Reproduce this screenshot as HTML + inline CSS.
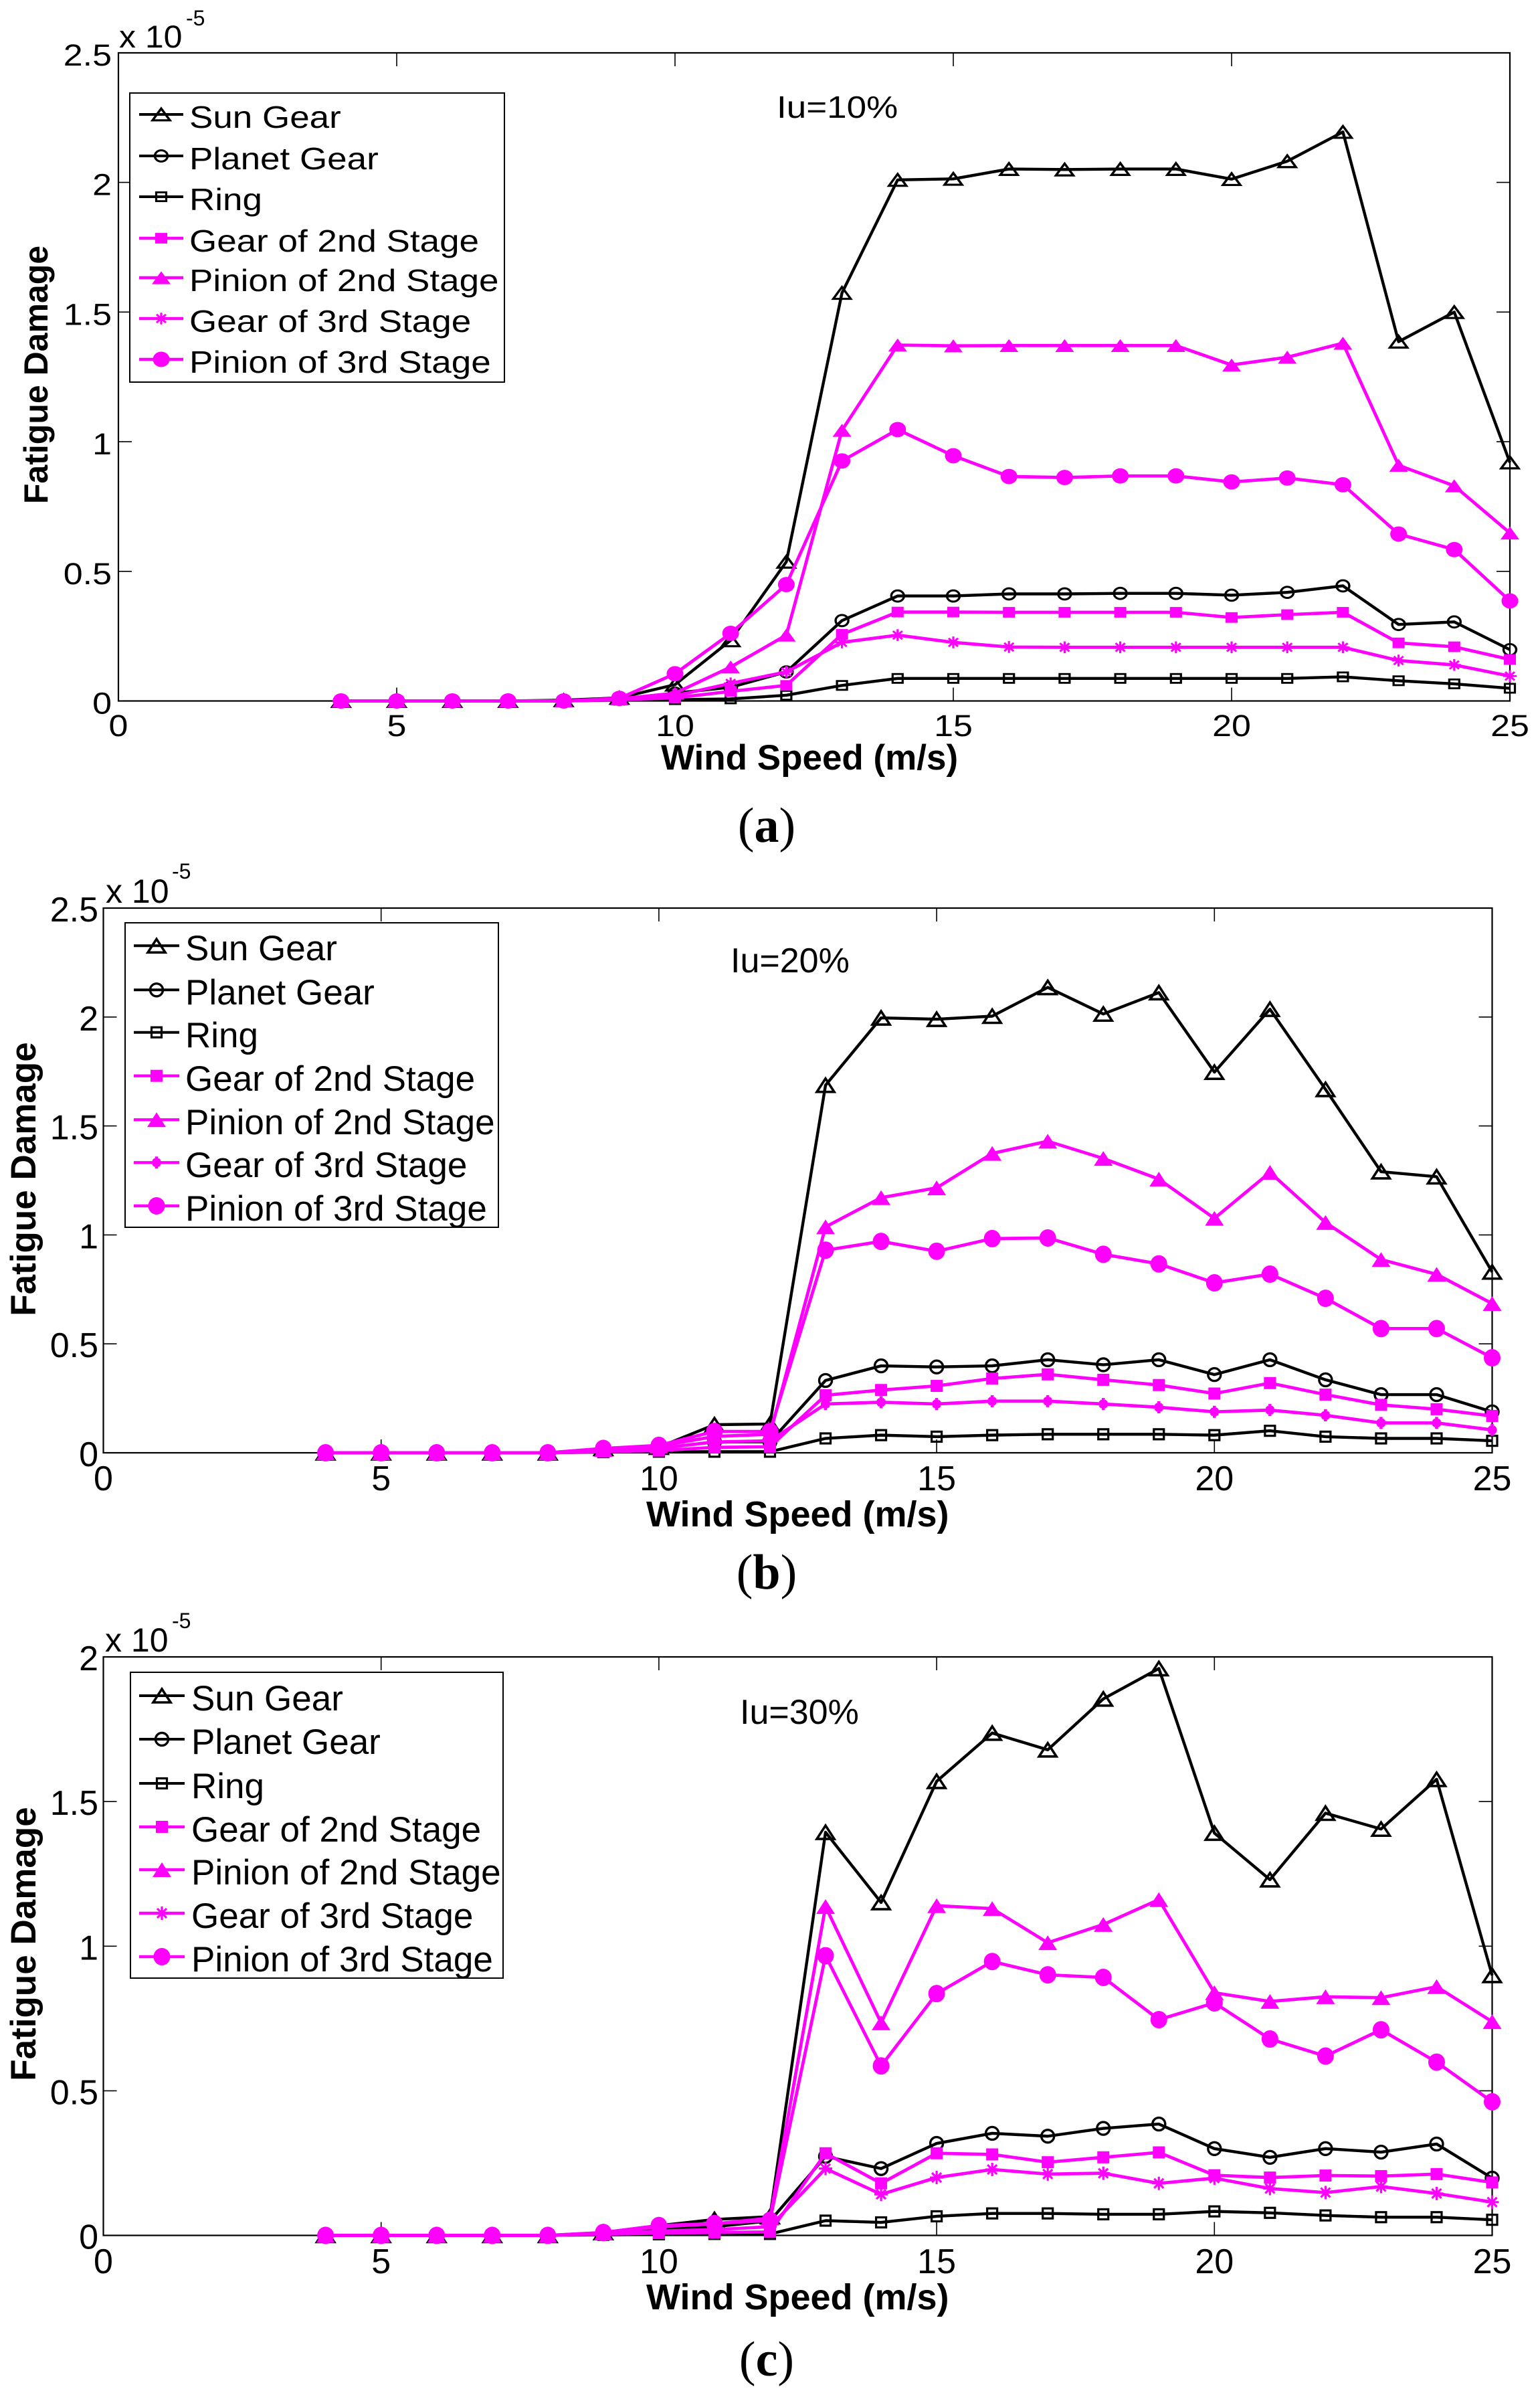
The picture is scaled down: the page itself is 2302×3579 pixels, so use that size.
<!DOCTYPE html>
<html><head><meta charset="utf-8"><style>
html,body{margin:0;padding:0;background:#fff}
svg{display:block}
text{font-family:"Liberation Sans",Arial,sans-serif;fill:#000}
.k{fill:none;stroke:#000;stroke-width:4.4;stroke-linejoin:round}
.m{fill:none;stroke:#f0f;stroke-width:4.8;stroke-linejoin:round}
.tk{fill:none;stroke:#000;stroke-width:1.6}
.fr{fill:none;stroke:#000;stroke-width:2.2}
.lg{fill:#fff;stroke:#000;stroke-width:2}
.lk{stroke:#000;stroke-width:4}
.lm{stroke:#f0f;stroke-width:4.4}
</style></head><body>
<svg width="2302" height="3579" viewBox="0 0 2302 3579" xmlns="http://www.w3.org/2000/svg">
<defs>
<g id="T"><path d="M0,-10L13,10H-13Z" fill="none" stroke="#000" stroke-width="3.6"/></g>
<g id="O"><circle r="9.5" fill="none" stroke="#000" stroke-width="3.4"/></g>
<g id="S"><rect x="-7.5" y="-7.5" width="15" height="15" fill="none" stroke="#000" stroke-width="3.2"/></g>
<g id="Q"><rect x="-9" y="-9" width="18" height="18" fill="#f0f"/></g>
<g id="P"><path d="M0,-11L14,11H-14Z" fill="#f0f"/></g>
<g id="X"><path d="M0,-10V10M-10,0H10M-7,-7L7,7M-7,7L7,-7" stroke="#f0f" stroke-width="3.2" fill="none"/></g>
<g id="X2"><path d="M0,-9V9M-7,0H7M-5,-5L5,5M-5,5L5,-5" stroke="#f0f" stroke-width="4.6" fill="none"/></g>
<g id="C"><ellipse rx="12.5" ry="13" fill="#f0f"/></g>

<g id="aT" transform="scale(.0120192,-.0022716)"><use href="#T"/></g>
<g id="aO" transform="scale(.0120192,-.0022716)"><use href="#O"/></g>
<g id="aS" transform="scale(.0120192,-.0022716)"><use href="#S"/></g>
<g id="aQ" transform="scale(.0120192,-.0022716)"><use href="#Q"/></g>
<g id="aP" transform="scale(.0120192,-.0022716)"><use href="#P"/></g>
<g id="aX" transform="scale(.0120192,-.0022716)"><use href="#X"/></g>
<g id="aC" transform="scale(.0120192,-.0022716)"><use href="#C"/></g>

<g id="bT" transform="scale(.0120424,-.0030713)"><use href="#T"/></g>
<g id="bO" transform="scale(.0120424,-.0030713)"><use href="#O"/></g>
<g id="bS" transform="scale(.0120424,-.0030713)"><use href="#S"/></g>
<g id="bQ" transform="scale(.0120424,-.0030713)"><use href="#Q"/></g>
<g id="bP" transform="scale(.0120424,-.0030713)"><use href="#P"/></g>
<g id="bX" transform="scale(.0120424,-.0030713)"><use href="#X2"/></g>
<g id="bC" transform="scale(.0120424,-.0030713)"><use href="#C"/></g>

<g id="cT" transform="scale(.0120424,-.0023137)"><use href="#T"/></g>
<g id="cO" transform="scale(.0120424,-.0023137)"><use href="#O"/></g>
<g id="cS" transform="scale(.0120424,-.0023137)"><use href="#S"/></g>
<g id="cQ" transform="scale(.0120424,-.0023137)"><use href="#Q"/></g>
<g id="cP" transform="scale(.0120424,-.0023137)"><use href="#P"/></g>
<g id="cX" transform="scale(.0120424,-.0023137)"><use href="#X"/></g>
<g id="cC" transform="scale(.0120424,-.0023137)"><use href="#C"/></g>
</defs>

<rect width="2302" height="3579" fill="#fff"/>

<!-- ================= PANEL A ================= -->
<rect class="fr" x="177" y="79" width="2080" height="968.5"/>
<path class="tk" d="M593,1047.5v-20M1009,1047.5v-20M1425,1047.5v-20M1841,1047.5v-20M593,79v20M1009,79v20M1425,79v20M1841,79v20M177,853.8h20M177,660.1h20M177,466.3h20M177,272.6h20M2257,853.8h-20M2257,660.1h-20M2257,466.3h-20M2257,272.6h-20"/>
<g font-size="52" text-anchor="end">
<text transform="translate(167,1066.5) scale(1,.88)">0</text>
<text transform="translate(167,872.8) scale(1,.88)">0.5</text>
<text transform="translate(167,679.1) scale(1,.88)">1</text>
<text transform="translate(167,485.3) scale(1,.88)">1.5</text>
<text transform="translate(167,291.6) scale(1,.88)">2</text>
<text transform="translate(167,97.9) scale(1,.88)">2.5</text>
</g>
<g font-size="52" text-anchor="middle">
<text transform="translate(177,1100) scale(1,.88)">0</text>
<text transform="translate(593,1100) scale(1,.88)">5</text>
<text transform="translate(1009,1100) scale(1,.88)">10</text>
<text transform="translate(1425,1100) scale(1,.88)">15</text>
<text transform="translate(1841,1100) scale(1,.88)">20</text>
<text transform="translate(2257,1100) scale(1,.88)">25</text>
</g>
<text transform="translate(178,71) scale(1,.95)" font-size="50">x 10</text>
<text x="278" y="38" font-size="32">-5</text>
<text transform="translate(71,560) rotate(-90)" font-size="50" font-weight="bold" text-anchor="middle">Fatigue Damage</text>
<text x="988" y="1150" font-size="53" font-weight="bold">Wind Speed (m/s)</text>
<text x="1146" y="1258" font-size="74" text-anchor="middle" style="font-family:'Liberation Serif','Times New Roman',serif">(<tspan font-weight="bold">a</tspan>)</text>
<text transform="translate(1161,176) scale(1,.88)" font-size="53">Iu=10%</text>

<g transform="matrix(83.2 0 0 -387.4 177 1047.5)">
<polyline class="k" vector-effect="non-scaling-stroke" points="4,0 5,0 6,0 7,0 8,.003 9,.012 10,.063 11,.234 12,.537 13,1.574 14,2.01 15,2.014 16,2.052 17,2.05 18,2.052 19,2.052 20,2.013 21,2.082 22,2.195 23,1.386 24,1.5 25,.92"/>
<use href="#aT" x="4"/><use href="#aT" x="5"/><use href="#aT" x="6"/><use href="#aT" x="7"/><use href="#aT" x="8" y=".003"/><use href="#aT" x="9" y=".012"/><use href="#aT" x="10" y=".063"/><use href="#aT" x="11" y=".234"/><use href="#aT" x="12" y=".537"/><use href="#aT" x="13" y="1.574"/><use href="#aT" x="14" y="2.01"/><use href="#aT" x="15" y="2.014"/><use href="#aT" x="16" y="2.052"/><use href="#aT" x="17" y="2.05"/><use href="#aT" x="18" y="2.052"/><use href="#aT" x="19" y="2.052"/><use href="#aT" x="20" y="2.013"/><use href="#aT" x="21" y="2.082"/><use href="#aT" x="22" y="2.195"/><use href="#aT" x="23" y="1.386"/><use href="#aT" x="24" y="1.5"/><use href="#aT" x="25" y=".92"/>

<polyline class="k" vector-effect="non-scaling-stroke" points="4,0 5,0 6,0 7,0 8,0 9,.008 10,.03 11,.053 12,.112 13,.31 14,.405 15,.405 16,.413 17,.413 18,.415 19,.415 20,.408 21,.419 22,.444 23,.295 24,.305 25,.198"/>
<use href="#aO" x="4"/><use href="#aO" x="5"/><use href="#aO" x="6"/><use href="#aO" x="7"/><use href="#aO" x="8"/><use href="#aO" x="9" y=".008"/><use href="#aO" x="10" y=".03"/><use href="#aO" x="11" y=".053"/><use href="#aO" x="12" y=".112"/><use href="#aO" x="13" y=".31"/><use href="#aO" x="14" y=".405"/><use href="#aO" x="15" y=".405"/><use href="#aO" x="16" y=".413"/><use href="#aO" x="17" y=".413"/><use href="#aO" x="18" y=".415"/><use href="#aO" x="19" y=".415"/><use href="#aO" x="20" y=".408"/><use href="#aO" x="21" y=".419"/><use href="#aO" x="22" y=".444"/><use href="#aO" x="23" y=".295"/><use href="#aO" x="24" y=".305"/><use href="#aO" x="25" y=".198"/>

<polyline class="k" vector-effect="non-scaling-stroke" points="4,0 5,0 6,0 7,0 8,0 9,.003 10,.005 11,.008 12,.022 13,.06 14,.087 15,.087 16,.087 17,.087 18,.087 19,.087 20,.087 21,.087 22,.093 23,.078 24,.066 25,.049"/>
<use href="#aS" x="4"/><use href="#aS" x="5"/><use href="#aS" x="6"/><use href="#aS" x="7"/><use href="#aS" x="8"/><use href="#aS" x="9" y=".003"/><use href="#aS" x="10" y=".005"/><use href="#aS" x="11" y=".008"/><use href="#aS" x="12" y=".022"/><use href="#aS" x="13" y=".06"/><use href="#aS" x="14" y=".087"/><use href="#aS" x="15" y=".087"/><use href="#aS" x="16" y=".087"/><use href="#aS" x="17" y=".087"/><use href="#aS" x="18" y=".087"/><use href="#aS" x="19" y=".087"/><use href="#aS" x="20" y=".087"/><use href="#aS" x="21" y=".087"/><use href="#aS" x="22" y=".093"/><use href="#aS" x="23" y=".078"/><use href="#aS" x="24" y=".066"/><use href="#aS" x="25" y=".049"/>

<polyline class="m" vector-effect="non-scaling-stroke" points="4,0 5,0 6,0 7,0 8,0 9,.005 10,.012 11,.037 12,.06 13,.257 14,.343 15,.343 16,.342 17,.342 18,.342 19,.342 20,.322 21,.333 22,.342 23,.224 24,.209 25,.16"/>
<use href="#aQ" x="4"/><use href="#aQ" x="5"/><use href="#aQ" x="6"/><use href="#aQ" x="7"/><use href="#aQ" x="8"/><use href="#aQ" x="9" y=".005"/><use href="#aQ" x="10" y=".012"/><use href="#aQ" x="11" y=".037"/><use href="#aQ" x="12" y=".06"/><use href="#aQ" x="13" y=".257"/><use href="#aQ" x="14" y=".343"/><use href="#aQ" x="15" y=".343"/><use href="#aQ" x="16" y=".342"/><use href="#aQ" x="17" y=".342"/><use href="#aQ" x="18" y=".342"/><use href="#aQ" x="19" y=".342"/><use href="#aQ" x="20" y=".322"/><use href="#aQ" x="21" y=".333"/><use href="#aQ" x="22" y=".342"/><use href="#aQ" x="23" y=".224"/><use href="#aQ" x="24" y=".209"/><use href="#aQ" x="25" y=".16"/>

<polyline class="m" vector-effect="non-scaling-stroke" points="4,0 5,0 6,0 7,0 8,0 9,.008 10,.03 11,.131 12,.254 13,1.044 14,1.373 15,1.37 16,1.371 17,1.371 18,1.371 19,1.371 20,1.296 21,1.326 22,1.38 23,.909 24,.83 25,.648"/>
<use href="#aP" x="4"/><use href="#aP" x="5"/><use href="#aP" x="6"/><use href="#aP" x="7"/><use href="#aP" x="8"/><use href="#aP" x="9" y=".008"/><use href="#aP" x="10" y=".03"/><use href="#aP" x="11" y=".131"/><use href="#aP" x="12" y=".254"/><use href="#aP" x="13" y="1.044"/><use href="#aP" x="14" y="1.373"/><use href="#aP" x="15" y="1.37"/><use href="#aP" x="16" y="1.371"/><use href="#aP" x="17" y="1.371"/><use href="#aP" x="18" y="1.371"/><use href="#aP" x="19" y="1.371"/><use href="#aP" x="20" y="1.296"/><use href="#aP" x="21" y="1.326"/><use href="#aP" x="22" y="1.38"/><use href="#aP" x="23" y=".909"/><use href="#aP" x="24" y=".83"/><use href="#aP" x="25" y=".648"/>

<polyline class="m" vector-effect="non-scaling-stroke" points="4,0 5,0 6,0 7,0 8,0 9,.006 10,.02 11,.068 12,.112 13,.226 14,.254 15,.226 16,.208 17,.207 18,.207 19,.207 20,.207 21,.207 22,.207 23,.156 24,.139 25,.096"/>
<use href="#aX" x="4"/><use href="#aX" x="5"/><use href="#aX" x="6"/><use href="#aX" x="7"/><use href="#aX" x="8"/><use href="#aX" x="9" y=".006"/><use href="#aX" x="10" y=".02"/><use href="#aX" x="11" y=".068"/><use href="#aX" x="12" y=".112"/><use href="#aX" x="13" y=".226"/><use href="#aX" x="14" y=".254"/><use href="#aX" x="15" y=".226"/><use href="#aX" x="16" y=".208"/><use href="#aX" x="17" y=".207"/><use href="#aX" x="18" y=".207"/><use href="#aX" x="19" y=".207"/><use href="#aX" x="20" y=".207"/><use href="#aX" x="21" y=".207"/><use href="#aX" x="22" y=".207"/><use href="#aX" x="23" y=".156"/><use href="#aX" x="24" y=".139"/><use href="#aX" x="25" y=".096"/>

<polyline class="m" vector-effect="non-scaling-stroke" points="4,0 5,0 6,0 7,0 8,0 9,.01 10,.105 11,.261 12,.449 13,.926 14,1.047 15,.946 16,.866 17,.862 18,.868 19,.868 20,.845 21,.86 22,.834 23,.644 24,.584 25,.386"/>
<use href="#aC" x="4"/><use href="#aC" x="5"/><use href="#aC" x="6"/><use href="#aC" x="7"/><use href="#aC" x="8"/><use href="#aC" x="9" y=".01"/><use href="#aC" x="10" y=".105"/><use href="#aC" x="11" y=".261"/><use href="#aC" x="12" y=".449"/><use href="#aC" x="13" y=".926"/><use href="#aC" x="14" y="1.047"/><use href="#aC" x="15" y=".946"/><use href="#aC" x="16" y=".866"/><use href="#aC" x="17" y=".862"/><use href="#aC" x="18" y=".868"/><use href="#aC" x="19" y=".868"/><use href="#aC" x="20" y=".845"/><use href="#aC" x="21" y=".86"/><use href="#aC" x="22" y=".834"/><use href="#aC" x="23" y=".644"/><use href="#aC" x="24" y=".584"/><use href="#aC" x="25" y=".386"/>
</g>

<!-- legend A -->
<rect class="lg" x="194" y="139" width="560" height="432"/>
<path class="lk" d="M208,171H274M208,233H274M208,294H274"/>
<path class="lm" d="M208,356H274M208,415H274M208,476H274M208,537H274"/>
<use href="#T" transform="translate(241,171) scale(1,.88)"/>
<use href="#O" transform="translate(241,233) scale(1,.88)"/>
<use href="#S" transform="translate(241,294) scale(1,.88)"/>
<use href="#Q" transform="translate(241,356) scale(1,.88)"/>
<use href="#P" transform="translate(241,415) scale(1,.88)"/>
<use href="#X" transform="translate(241,476) scale(1,.88)"/>
<use href="#C" transform="translate(241,537) scale(1,.88)"/>
<g font-size="53">
<text transform="translate(283,191) scale(1,.88)">Sun Gear</text>
<text transform="translate(283,253) scale(1,.88)">Planet Gear</text>
<text transform="translate(283,314) scale(1,.88)">Ring</text>
<text transform="translate(283,376) scale(1,.88)">Gear of 2nd Stage</text>
<text transform="translate(283,435) scale(1,.88)">Pinion of 2nd Stage</text>
<text transform="translate(283,496) scale(1,.88)">Gear of 3rd Stage</text>
<text transform="translate(283,557) scale(1,.88)">Pinion of 3rd Stage</text>
</g>

<!-- ================= PANEL B ================= -->
<rect class="fr" x="154.5" y="1357" width="2076" height="814"/>
<path class="tk" d="M569.7,2171v-20M984.9,2171v-20M1400.1,2171v-20M1815.3,2171v-20M569.7,1357v20M984.9,1357v20M1400.1,1357v20M1815.3,1357v20M154.5,2008.2h20M154.5,1845.4h20M154.5,1682.6h20M154.5,1519.8h20M2230.5,2008.2h-20M2230.5,1845.4h-20M2230.5,1682.6h-20M2230.5,1519.8h-20"/>
<g font-size="52" text-anchor="end">
<text x="147" y="2191">0</text>
<text x="147" y="2028.2">0.5</text>
<text x="147" y="1865.4">1</text>
<text x="147" y="1702.6">1.5</text>
<text x="147" y="1539.8">2</text>
<text x="147" y="1377">2.5</text>
</g>
<g font-size="52" text-anchor="middle">
<text x="154.5" y="2227">0</text>
<text x="569.7" y="2227">5</text>
<text x="984.9" y="2227">10</text>
<text x="1400.1" y="2227">15</text>
<text x="1815.3" y="2227">20</text>
<text x="2230.5" y="2227">25</text>
</g>
<text x="158" y="1349" font-size="50">x 10</text>
<text x="257" y="1313" font-size="32">-5</text>
<text transform="translate(53,1762) rotate(-90)" font-size="53" font-weight="bold" text-anchor="middle">Fatigue Damage</text>
<text x="966" y="2281" font-size="54" font-weight="bold">Wind Speed (m/s)</text>
<text x="1146" y="2374" font-size="74" text-anchor="middle" style="font-family:'Liberation Serif','Times New Roman',serif">(<tspan font-weight="bold">b</tspan>)</text>
<text x="1092" y="1453" font-size="52">Iu=20%</text>

<g transform="matrix(83.04 0 0 -325.6 154.5 2171)">
<polyline class="k" vector-effect="non-scaling-stroke" points="4,0 5,0 6,0 7,0 8,0 9,.02 10,.026 11,.129 12,.132 13,1.687 14,1.996 15,1.99 16,2.004 17,2.136 18,2.014 19,2.112 20,1.747 21,2.036 22,1.668 23,1.29 24,1.267 25,.83"/>
<use href="#bT" x="4"/><use href="#bT" x="5"/><use href="#bT" x="6"/><use href="#bT" x="7"/><use href="#bT" x="8"/><use href="#bT" x="9" y=".02"/><use href="#bT" x="10" y=".026"/><use href="#bT" x="11" y=".129"/><use href="#bT" x="12" y=".132"/><use href="#bT" x="13" y="1.687"/><use href="#bT" x="14" y="1.996"/><use href="#bT" x="15" y="1.99"/><use href="#bT" x="16" y="2.004"/><use href="#bT" x="17" y="2.136"/><use href="#bT" x="18" y="2.014"/><use href="#bT" x="19" y="2.112"/><use href="#bT" x="20" y="1.747"/><use href="#bT" x="21" y="2.036"/><use href="#bT" x="22" y="1.668"/><use href="#bT" x="23" y="1.29"/><use href="#bT" x="24" y="1.267"/><use href="#bT" x="25" y=".83"/>

<polyline class="k" vector-effect="non-scaling-stroke" points="4,0 5,0 6,0 7,0 8,0 9,.01 10,.02 11,.05 12,.05 13,.332 14,.399 15,.394 16,.399 17,.427 18,.404 19,.427 20,.359 21,.427 22,.335 23,.267 24,.267 25,.188"/>
<use href="#bO" x="4"/><use href="#bO" x="5"/><use href="#bO" x="6"/><use href="#bO" x="7"/><use href="#bO" x="8"/><use href="#bO" x="9" y=".01"/><use href="#bO" x="10" y=".02"/><use href="#bO" x="11" y=".05"/><use href="#bO" x="12" y=".05"/><use href="#bO" x="13" y=".332"/><use href="#bO" x="14" y=".399"/><use href="#bO" x="15" y=".394"/><use href="#bO" x="16" y=".399"/><use href="#bO" x="17" y=".427"/><use href="#bO" x="18" y=".404"/><use href="#bO" x="19" y=".427"/><use href="#bO" x="20" y=".359"/><use href="#bO" x="21" y=".427"/><use href="#bO" x="22" y=".335"/><use href="#bO" x="23" y=".267"/><use href="#bO" x="24" y=".267"/><use href="#bO" x="25" y=".188"/>

<polyline class="k" vector-effect="non-scaling-stroke" points="4,0 5,0 6,0 7,0 8,0 9,.003 10,.005 11,.005 12,.005 13,.066 14,.081 15,.074 16,.081 17,.085 18,.085 19,.085 20,.081 21,.101 22,.074 23,.066 24,.066 25,.055"/>
<use href="#bS" x="4"/><use href="#bS" x="5"/><use href="#bS" x="6"/><use href="#bS" x="7"/><use href="#bS" x="8"/><use href="#bS" x="9" y=".003"/><use href="#bS" x="10" y=".005"/><use href="#bS" x="11" y=".005"/><use href="#bS" x="12" y=".005"/><use href="#bS" x="13" y=".066"/><use href="#bS" x="14" y=".081"/><use href="#bS" x="15" y=".074"/><use href="#bS" x="16" y=".081"/><use href="#bS" x="17" y=".085"/><use href="#bS" x="18" y=".085"/><use href="#bS" x="19" y=".085"/><use href="#bS" x="20" y=".081"/><use href="#bS" x="21" y=".101"/><use href="#bS" x="22" y=".074"/><use href="#bS" x="23" y=".066"/><use href="#bS" x="24" y=".066"/><use href="#bS" x="25" y=".055"/>

<polyline class="m" vector-effect="non-scaling-stroke" points="4,0 5,0 6,0 7,0 8,0 9,.005 10,.01 11,.025 12,.028 13,.264 14,.288 15,.307 16,.341 17,.36 18,.335 19,.311 20,.272 21,.32 22,.267 23,.22 24,.2 25,.169"/>
<use href="#bQ" x="4"/><use href="#bQ" x="5"/><use href="#bQ" x="6"/><use href="#bQ" x="7"/><use href="#bQ" x="8"/><use href="#bQ" x="9" y=".005"/><use href="#bQ" x="10" y=".01"/><use href="#bQ" x="11" y=".025"/><use href="#bQ" x="12" y=".028"/><use href="#bQ" x="13" y=".264"/><use href="#bQ" x="14" y=".288"/><use href="#bQ" x="15" y=".307"/><use href="#bQ" x="16" y=".341"/><use href="#bQ" x="17" y=".36"/><use href="#bQ" x="18" y=".335"/><use href="#bQ" x="19" y=".311"/><use href="#bQ" x="20" y=".272"/><use href="#bQ" x="21" y=".32"/><use href="#bQ" x="22" y=".267"/><use href="#bQ" x="23" y=".22"/><use href="#bQ" x="24" y=".2"/><use href="#bQ" x="25" y=".169"/>

<polyline class="m" vector-effect="non-scaling-stroke" points="4,0 5,0 6,0 7,0 8,0 9,.015 10,.03 11,.075 12,.085 13,1.037 14,1.171 15,1.216 16,1.374 17,1.43 18,1.351 19,1.256 20,1.076 21,1.287 22,1.057 23,.887 24,.819 25,.685"/>
<use href="#bP" x="4"/><use href="#bP" x="5"/><use href="#bP" x="6"/><use href="#bP" x="7"/><use href="#bP" x="8"/><use href="#bP" x="9" y=".015"/><use href="#bP" x="10" y=".03"/><use href="#bP" x="11" y=".075"/><use href="#bP" x="12" y=".085"/><use href="#bP" x="13" y="1.037"/><use href="#bP" x="14" y="1.171"/><use href="#bP" x="15" y="1.216"/><use href="#bP" x="16" y="1.374"/><use href="#bP" x="17" y="1.43"/><use href="#bP" x="18" y="1.351"/><use href="#bP" x="19" y="1.256"/><use href="#bP" x="20" y="1.076"/><use href="#bP" x="21" y="1.287"/><use href="#bP" x="22" y="1.057"/><use href="#bP" x="23" y=".887"/><use href="#bP" x="24" y=".819"/><use href="#bP" x="25" y=".685"/>

<polyline class="m" vector-effect="non-scaling-stroke" points="4,0 5,0 6,0 7,0 8,0 9,.01 10,.02 11,.05 12,.055 13,.224 14,.232 15,.224 16,.237 17,.237 18,.224 19,.209 20,.188 21,.196 22,.172 23,.137 24,.137 25,.105"/>
<use href="#bX" x="4"/><use href="#bX" x="5"/><use href="#bX" x="6"/><use href="#bX" x="7"/><use href="#bX" x="8"/><use href="#bX" x="9" y=".01"/><use href="#bX" x="10" y=".02"/><use href="#bX" x="11" y=".05"/><use href="#bX" x="12" y=".055"/><use href="#bX" x="13" y=".224"/><use href="#bX" x="14" y=".232"/><use href="#bX" x="15" y=".224"/><use href="#bX" x="16" y=".237"/><use href="#bX" x="17" y=".237"/><use href="#bX" x="18" y=".224"/><use href="#bX" x="19" y=".209"/><use href="#bX" x="20" y=".188"/><use href="#bX" x="21" y=".196"/><use href="#bX" x="22" y=".172"/><use href="#bX" x="23" y=".137"/><use href="#bX" x="24" y=".137"/><use href="#bX" x="25" y=".105"/>

<polyline class="m" vector-effect="non-scaling-stroke" points="4,0 5,0 6,0 7,0 8,0 9,.02 10,.034 11,.098 12,.098 13,.93 14,.97 15,.925 16,.983 17,.986 18,.911 19,.867 20,.78 21,.82 22,.709 23,.57 24,.57 25,.436"/>
<use href="#bC" x="4"/><use href="#bC" x="5"/><use href="#bC" x="6"/><use href="#bC" x="7"/><use href="#bC" x="8"/><use href="#bC" x="9" y=".02"/><use href="#bC" x="10" y=".034"/><use href="#bC" x="11" y=".098"/><use href="#bC" x="12" y=".098"/><use href="#bC" x="13" y=".93"/><use href="#bC" x="14" y=".97"/><use href="#bC" x="15" y=".925"/><use href="#bC" x="16" y=".983"/><use href="#bC" x="17" y=".986"/><use href="#bC" x="18" y=".911"/><use href="#bC" x="19" y=".867"/><use href="#bC" x="20" y=".78"/><use href="#bC" x="21" y=".82"/><use href="#bC" x="22" y=".709"/><use href="#bC" x="23" y=".57"/><use href="#bC" x="24" y=".57"/><use href="#bC" x="25" y=".436"/>
</g>

<!-- legend B -->
<rect class="lg" x="187" y="1379" width="558" height="455"/>
<path class="lk" d="M200,1413.3H268M200,1479.3H268M200,1542.7H268"/>
<path class="lm" d="M200,1607.7H268M200,1673.3H268M200,1737.3H268M200,1802H268"/>
<use href="#T" transform="translate(234,1413.3)"/>
<use href="#O" transform="translate(234,1479.3)"/>
<use href="#S" transform="translate(234,1542.7)"/>
<use href="#Q" transform="translate(234,1607.7)"/>
<use href="#P" transform="translate(234,1673.3)"/>
<use href="#X2" transform="translate(234,1737.3)"/>
<use href="#C" transform="translate(234,1802)"/>
<g font-size="53">
<text x="277" y="1435">Sun Gear</text>
<text x="277" y="1501">Planet Gear</text>
<text x="277" y="1565">Ring</text>
<text x="277" y="1630">Gear of 2nd Stage</text>
<text x="277" y="1695">Pinion of 2nd Stage</text>
<text x="277" y="1759">Gear of 3rd Stage</text>
<text x="277" y="1824">Pinion of 3rd Stage</text>
</g>

<!-- ================= PANEL C ================= -->
<rect class="fr" x="154.5" y="2476" width="2076" height="864.5"/>
<path class="tk" d="M569.7,3340.5v-20M984.9,3340.5v-20M1400.1,3340.5v-20M1815.3,3340.5v-20M569.7,2476v20M984.9,2476v20M1400.1,2476v20M1815.3,2476v20M154.5,3124.4h20M154.5,2908.3h20M154.5,2692.2h20M2230.5,3124.4h-20M2230.5,2908.3h-20M2230.5,2692.2h-20"/>
<g font-size="52" text-anchor="end">
<text x="147" y="3360.5">0</text>
<text x="147" y="3144.4">0.5</text>
<text x="147" y="2928.3">1</text>
<text x="147" y="2712.2">1.5</text>
<text x="147" y="2496.1">2</text>
</g>
<g font-size="52" text-anchor="middle">
<text x="154.5" y="3397">0</text>
<text x="569.7" y="3397">5</text>
<text x="984.9" y="3397">10</text>
<text x="1400.1" y="3397">15</text>
<text x="1815.3" y="3397">20</text>
<text x="2230.5" y="3397">25</text>
</g>
<text x="157" y="2468" font-size="50">x 10</text>
<text x="257" y="2433" font-size="32">-5</text>
<text transform="translate(53,2905) rotate(-90)" font-size="53" font-weight="bold" text-anchor="middle">Fatigue Damage</text>
<text x="966" y="3451" font-size="54" font-weight="bold">Wind Speed (m/s)</text>
<text x="1146" y="3550" font-size="74" text-anchor="middle" style="font-family:'Liberation Serif','Times New Roman',serif">(<tspan font-weight="bold">c</tspan>)</text>
<text x="1106" y="2576" font-size="52">Iu=30%</text>

<g transform="matrix(83.04 0 0 -432.2 154.5 3340.5)">
<polyline class="k" vector-effect="non-scaling-stroke" points="4,0 5,0 6,0 7,0 8,0 9,.01 10,.034 11,.055 12,.065 13,1.394 14,1.151 15,1.57 16,1.737 17,1.679 18,1.855 19,1.96 20,1.391 21,1.23 22,1.46 23,1.405 24,1.577 25,.899"/>
<use href="#cT" x="4"/><use href="#cT" x="5"/><use href="#cT" x="6"/><use href="#cT" x="7"/><use href="#cT" x="8"/><use href="#cT" x="9" y=".01"/><use href="#cT" x="10" y=".034"/><use href="#cT" x="11" y=".055"/><use href="#cT" x="12" y=".065"/><use href="#cT" x="13" y="1.394"/><use href="#cT" x="14" y="1.151"/><use href="#cT" x="15" y="1.57"/><use href="#cT" x="16" y="1.737"/><use href="#cT" x="17" y="1.679"/><use href="#cT" x="18" y="1.855"/><use href="#cT" x="19" y="1.96"/><use href="#cT" x="20" y="1.391"/><use href="#cT" x="21" y="1.23"/><use href="#cT" x="22" y="1.46"/><use href="#cT" x="23" y="1.405"/><use href="#cT" x="24" y="1.577"/><use href="#cT" x="25" y=".899"/>

<polyline class="k" vector-effect="non-scaling-stroke" points="4,0 5,0 6,0 7,0 8,0 9,.008 10,.02 11,.03 12,.05 13,.273 14,.231 15,.318 16,.353 17,.343 18,.37 19,.385 20,.3 21,.27 22,.3 23,.288 24,.316 25,.198"/>
<use href="#cO" x="4"/><use href="#cO" x="5"/><use href="#cO" x="6"/><use href="#cO" x="7"/><use href="#cO" x="8"/><use href="#cO" x="9" y=".008"/><use href="#cO" x="10" y=".02"/><use href="#cO" x="11" y=".03"/><use href="#cO" x="12" y=".05"/><use href="#cO" x="13" y=".273"/><use href="#cO" x="14" y=".231"/><use href="#cO" x="15" y=".318"/><use href="#cO" x="16" y=".353"/><use href="#cO" x="17" y=".343"/><use href="#cO" x="18" y=".37"/><use href="#cO" x="19" y=".385"/><use href="#cO" x="20" y=".3"/><use href="#cO" x="21" y=".27"/><use href="#cO" x="22" y=".3"/><use href="#cO" x="23" y=".288"/><use href="#cO" x="24" y=".316"/><use href="#cO" x="25" y=".198"/>

<polyline class="k" vector-effect="non-scaling-stroke" points="4,0 5,0 6,0 7,0 8,0 9,.002 10,.004 11,.005 12,.005 13,.051 14,.045 15,.066 16,.076 17,.076 18,.073 19,.073 20,.083 21,.078 22,.069 23,.063 24,.063 25,.054"/>
<use href="#cS" x="4"/><use href="#cS" x="5"/><use href="#cS" x="6"/><use href="#cS" x="7"/><use href="#cS" x="8"/><use href="#cS" x="9" y=".002"/><use href="#cS" x="10" y=".004"/><use href="#cS" x="11" y=".005"/><use href="#cS" x="12" y=".005"/><use href="#cS" x="13" y=".051"/><use href="#cS" x="14" y=".045"/><use href="#cS" x="15" y=".066"/><use href="#cS" x="16" y=".076"/><use href="#cS" x="17" y=".076"/><use href="#cS" x="18" y=".073"/><use href="#cS" x="19" y=".073"/><use href="#cS" x="20" y=".083"/><use href="#cS" x="21" y=".078"/><use href="#cS" x="22" y=".069"/><use href="#cS" x="23" y=".063"/><use href="#cS" x="24" y=".063"/><use href="#cS" x="25" y=".054"/>

<polyline class="m" vector-effect="non-scaling-stroke" points="4,0 5,0 6,0 7,0 8,0 9,.004 10,.008 11,.01 12,.012 13,.284 14,.18 15,.284 16,.28 17,.253 18,.27 19,.287 20,.208 21,.2 22,.207 23,.205 24,.212 25,.183"/>
<use href="#cQ" x="4"/><use href="#cQ" x="5"/><use href="#cQ" x="6"/><use href="#cQ" x="7"/><use href="#cQ" x="8"/><use href="#cQ" x="9" y=".004"/><use href="#cQ" x="10" y=".008"/><use href="#cQ" x="11" y=".01"/><use href="#cQ" x="12" y=".012"/><use href="#cQ" x="13" y=".284"/><use href="#cQ" x="14" y=".18"/><use href="#cQ" x="15" y=".284"/><use href="#cQ" x="16" y=".28"/><use href="#cQ" x="17" y=".253"/><use href="#cQ" x="18" y=".27"/><use href="#cQ" x="19" y=".287"/><use href="#cQ" x="20" y=".208"/><use href="#cQ" x="21" y=".2"/><use href="#cQ" x="22" y=".207"/><use href="#cQ" x="23" y=".205"/><use href="#cQ" x="24" y=".212"/><use href="#cQ" x="25" y=".183"/>

<polyline class="m" vector-effect="non-scaling-stroke" points="4,0 5,0 6,0 7,0 8,0 9,.008 10,.03 11,.04 12,.06 13,1.137 14,.735 15,1.14 16,1.13 17,1.012 18,1.075 19,1.161 20,.839 21,.809 22,.825 23,.822 24,.86 25,.739"/>
<use href="#cP" x="4"/><use href="#cP" x="5"/><use href="#cP" x="6"/><use href="#cP" x="7"/><use href="#cP" x="8"/><use href="#cP" x="9" y=".008"/><use href="#cP" x="10" y=".03"/><use href="#cP" x="11" y=".04"/><use href="#cP" x="12" y=".06"/><use href="#cP" x="13" y="1.137"/><use href="#cP" x="14" y=".735"/><use href="#cP" x="15" y="1.14"/><use href="#cP" x="16" y="1.13"/><use href="#cP" x="17" y="1.012"/><use href="#cP" x="18" y="1.075"/><use href="#cP" x="19" y="1.161"/><use href="#cP" x="20" y=".839"/><use href="#cP" x="21" y=".809"/><use href="#cP" x="22" y=".825"/><use href="#cP" x="23" y=".822"/><use href="#cP" x="24" y=".86"/><use href="#cP" x="25" y=".739"/>

<polyline class="m" vector-effect="non-scaling-stroke" points="4,0 5,0 6,0 7,0 8,0 9,.005 10,.015 11,.02 12,.03 13,.231 14,.142 15,.2 16,.228 17,.212 18,.215 19,.18 20,.198 21,.162 22,.148 23,.169 24,.145 25,.115"/>
<use href="#cX" x="4"/><use href="#cX" x="5"/><use href="#cX" x="6"/><use href="#cX" x="7"/><use href="#cX" x="8"/><use href="#cX" x="9" y=".005"/><use href="#cX" x="10" y=".015"/><use href="#cX" x="11" y=".02"/><use href="#cX" x="12" y=".03"/><use href="#cX" x="13" y=".231"/><use href="#cX" x="14" y=".142"/><use href="#cX" x="15" y=".2"/><use href="#cX" x="16" y=".228"/><use href="#cX" x="17" y=".212"/><use href="#cX" x="18" y=".215"/><use href="#cX" x="19" y=".18"/><use href="#cX" x="20" y=".198"/><use href="#cX" x="21" y=".162"/><use href="#cX" x="22" y=".148"/><use href="#cX" x="23" y=".169"/><use href="#cX" x="24" y=".145"/><use href="#cX" x="25" y=".115"/>

<polyline class="m" vector-effect="non-scaling-stroke" points="4,0 5,0 6,0 7,0 8,0 9,.01 10,.034 11,.041 12,.052 13,.967 14,.586 15,.836 16,.947 17,.901 18,.892 19,.746 20,.804 21,.679 22,.62 23,.711 24,.599 25,.462"/>
<use href="#cC" x="4"/><use href="#cC" x="5"/><use href="#cC" x="6"/><use href="#cC" x="7"/><use href="#cC" x="8"/><use href="#cC" x="9" y=".01"/><use href="#cC" x="10" y=".034"/><use href="#cC" x="11" y=".041"/><use href="#cC" x="12" y=".052"/><use href="#cC" x="13" y=".967"/><use href="#cC" x="14" y=".586"/><use href="#cC" x="15" y=".836"/><use href="#cC" x="16" y=".947"/><use href="#cC" x="17" y=".901"/><use href="#cC" x="18" y=".892"/><use href="#cC" x="19" y=".746"/><use href="#cC" x="20" y=".804"/><use href="#cC" x="21" y=".679"/><use href="#cC" x="22" y=".62"/><use href="#cC" x="23" y=".711"/><use href="#cC" x="24" y=".599"/><use href="#cC" x="25" y=".462"/>
</g>

<!-- legend C -->
<rect class="lg" x="195" y="2499" width="557" height="457"/>
<path class="lk" d="M208,2534H276M208,2599H276M208,2665H276"/>
<path class="lm" d="M208,2730H276M208,2794H276M208,2859H276M208,2924H276"/>
<use href="#T" transform="translate(242,2534)"/>
<use href="#O" transform="translate(242,2599)"/>
<use href="#S" transform="translate(242,2665)"/>
<use href="#Q" transform="translate(242,2730)"/>
<use href="#P" transform="translate(242,2794)"/>
<use href="#X" transform="translate(242,2859)"/>
<use href="#C" transform="translate(242,2924)"/>
<g font-size="53">
<text x="286" y="2556">Sun Gear</text>
<text x="286" y="2621">Planet Gear</text>
<text x="286" y="2687">Ring</text>
<text x="286" y="2752">Gear of 2nd Stage</text>
<text x="286" y="2816">Pinion of 2nd Stage</text>
<text x="286" y="2881">Gear of 3rd Stage</text>
<text x="286" y="2946">Pinion of 3rd Stage</text>
</g>
</svg>
</body></html>
